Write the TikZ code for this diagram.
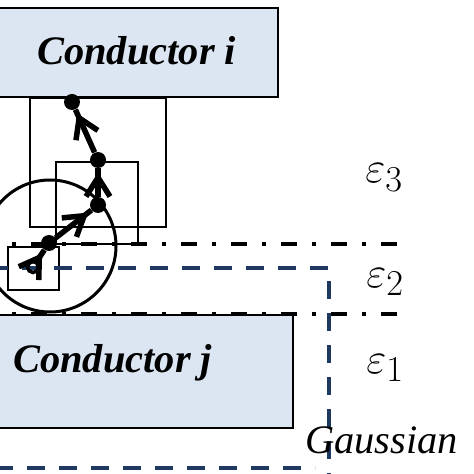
\documentclass[tikz,border=0pt]{standalone}
\usepackage{fontspec}
\setmainfont{Liberation Serif}
\usepackage{tikz}
\usetikzlibrary{arrows.meta,decorations.markings}
\definecolor{condfill}{RGB}{220,230,242}
\definecolor{gaussblue}{RGB}{31,56,96}

\tikzset{
  conductor/.style={draw=black, line width=0.04cm, fill=condfill},
  condlabel/.style={anchor=base west, inner sep=0pt, font=\fontsize{23}{27}\selectfont\bfseries\itshape},
  epslabel/.style={anchor=base west, inner sep=0pt, font=\fontsize{28}{32}\selectfont},
  boundary/.style={line width=0.08cm, dash pattern=on 0.32cm off 0.3cm on 0.08cm off 0.3cm},
  gauss/.style={draw=gaussblue, line width=0.08cm, dash pattern=on 0.36cm off 0.28cm},
  hop/.style={draw=black, line width=0.04cm},
  walkdot/.style={circle, fill=black, inner sep=0pt, minimum size=0.32cm},
  walk/.style={line width=0.11cm, postaction={decorate},
    decoration={markings, mark=at position -0.08cm with {\arrow{Straight Barb[length=0.38cm,width=0.48cm]}}}}
}

\begin{document}
\begin{tikzpicture}
\useasboundingbox (0cm,0cm) rectangle (9.48cm,-9.48cm);
% conductors
\draw[conductor] (-0.2cm,-0.16cm) rectangle (5.56cm,-1.94cm);
\draw[conductor] (-0.2cm,-6.3cm) rectangle (5.86cm,-8.56cm);
\node[condlabel] (ilabel) at (0.74cm,-1.30cm) {Conductor i};
\node[condlabel] (jlabel) at (0.26cm,-7.44cm) {Conductor j};
% hop squares and sphere
\draw[hop] (0.6cm,-1.96cm) rectangle (3.32cm,-4.54cm);
\draw[hop] (1.12cm,-3.24cm) rectangle (2.76cm,-4.88cm);
\draw[hop] (0.16cm,-4.94cm) rectangle (1.18cm,-5.8cm);
\draw[line width=0.06cm] (1.0cm,-4.92cm) circle (1.32cm);
% dielectric boundaries
\draw[boundary] (7.94cm,-4.88cm) -- (0.2cm,-4.88cm);
\draw[boundary] (7.94cm,-6.28cm) -- (0.2cm,-6.28cm);
% gaussian surface
\draw[gauss] (-0.2cm,-5.36cm) -- (6.58cm,-5.36cm) -- (6.58cm,-9.7cm);
\draw[gauss] (-0.1cm,-9.36cm) -- (6.3cm,-9.36cm);
\node[epslabel] (e3) at (7.3cm,-3.66cm) {$\varepsilon_3$};
\node[epslabel] (e2) at (7.32cm,-5.74cm) {$\varepsilon_2$};
\node[epslabel] (e1) at (7.32cm,-7.46cm) {$\varepsilon_1$};
\node[anchor=base west, inner sep=0pt, font=\fontsize{23}{27}\selectfont\itshape] (gs) at (6.1cm,-9.06cm) {Gaussian};
% random walk
\node[circle, draw, line width=0.07cm, minimum size=0.22cm, inner sep=0pt] (0) at (0.66cm,-5.34cm) {};
\node[walkdot] (1) at (0.98cm,-4.86cm) {};
\node[walkdot] (2) at (1.96cm,-4.10cm) {};
\node[walkdot] (3) at (1.96cm,-3.20cm) {};
\node[walkdot] (4) at (1.44cm,-2.04cm) {};
\draw[walk] (0) -- (1);
\draw[walk] (1) -- (2);
\draw[walk] (2) -- (3);
\draw[walk] (3) -- (4);
\end{tikzpicture}
\end{document}
